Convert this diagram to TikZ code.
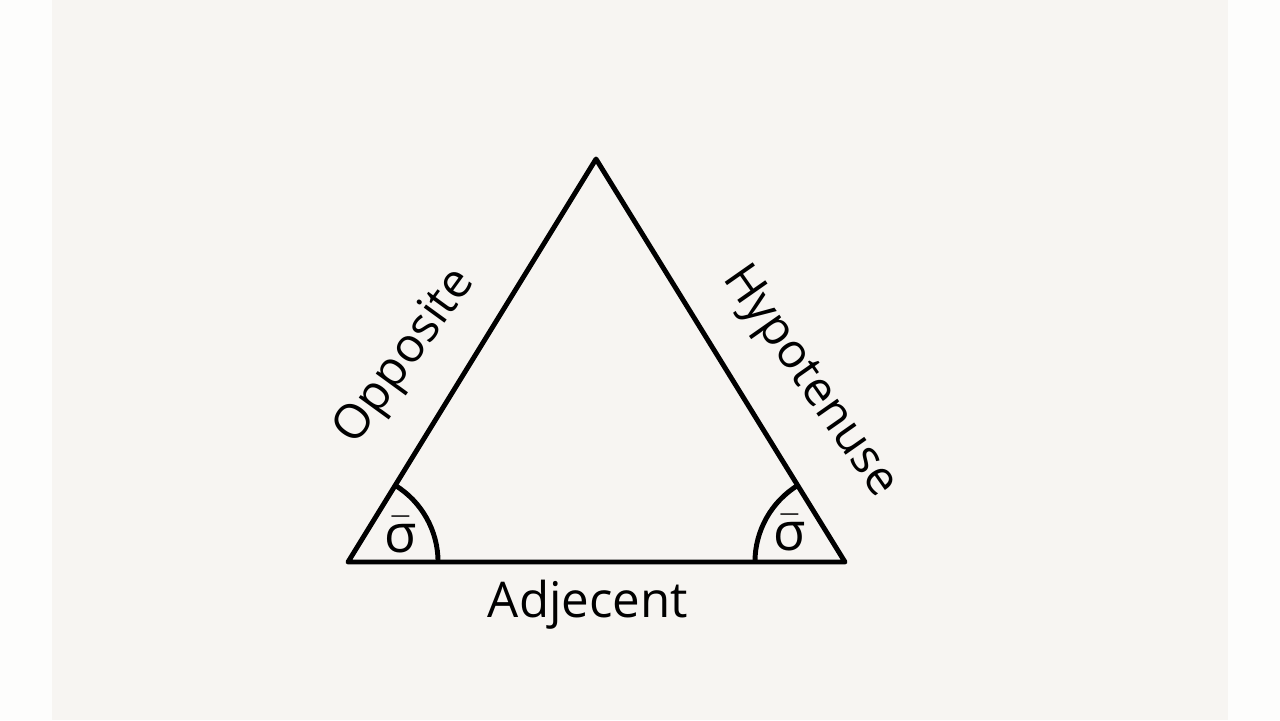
\documentclass[tikz,border=0pt]{standalone}
\usepackage{fontspec}
\setmainfont{Open Sans}
\usetikzlibrary{angles}
\definecolor{paper}{HTML}{F7F5F2}
\definecolor{edge}{HTML}{FDFDFC}

\begin{document}
\begin{tikzpicture}[x=0.01cm,y=-0.01cm,line join=round,
  side/.style={font=\fontsize{13.6}{15}\selectfont,inner sep=0pt},
  mark angle/.style={draw,line width=1.4pt,angle radius=0.9cm}]
\fill[edge] (0,0) rectangle (1280,720);
\fill[paper] (52,0) rectangle (1228,720);
\useasboundingbox (0,0) rectangle (1280,720);
% corners of the triangle
\coordinate (L) at (348,562);
\coordinate (A) at (596,159);
\coordinate (R) at (845,562);
\draw[line width=1.4pt] (L) -- (A) -- (R) -- cycle;
\pic[mark angle] {angle=R--L--A};
\pic[mark angle] {angle=A--R--L};
\node[side,font=\fontsize{14}{16}\selectfont] (adj) at (588,605) {Adjecent};
\node[side,rotate=54] (opp) at (406,357) {Opposite};
\node[side,rotate=-55] (hyp) at (809,382) {Hypotenuse};
\node[font=\fontsize{15}{17}\selectfont] (thL) at (401,535) {$\bar{\mbox{σ}}$};
\node[font=\fontsize{15}{17}\selectfont] (thR) at (790,533) {$\bar{\mbox{σ}}$};
\end{tikzpicture}
\end{document}
